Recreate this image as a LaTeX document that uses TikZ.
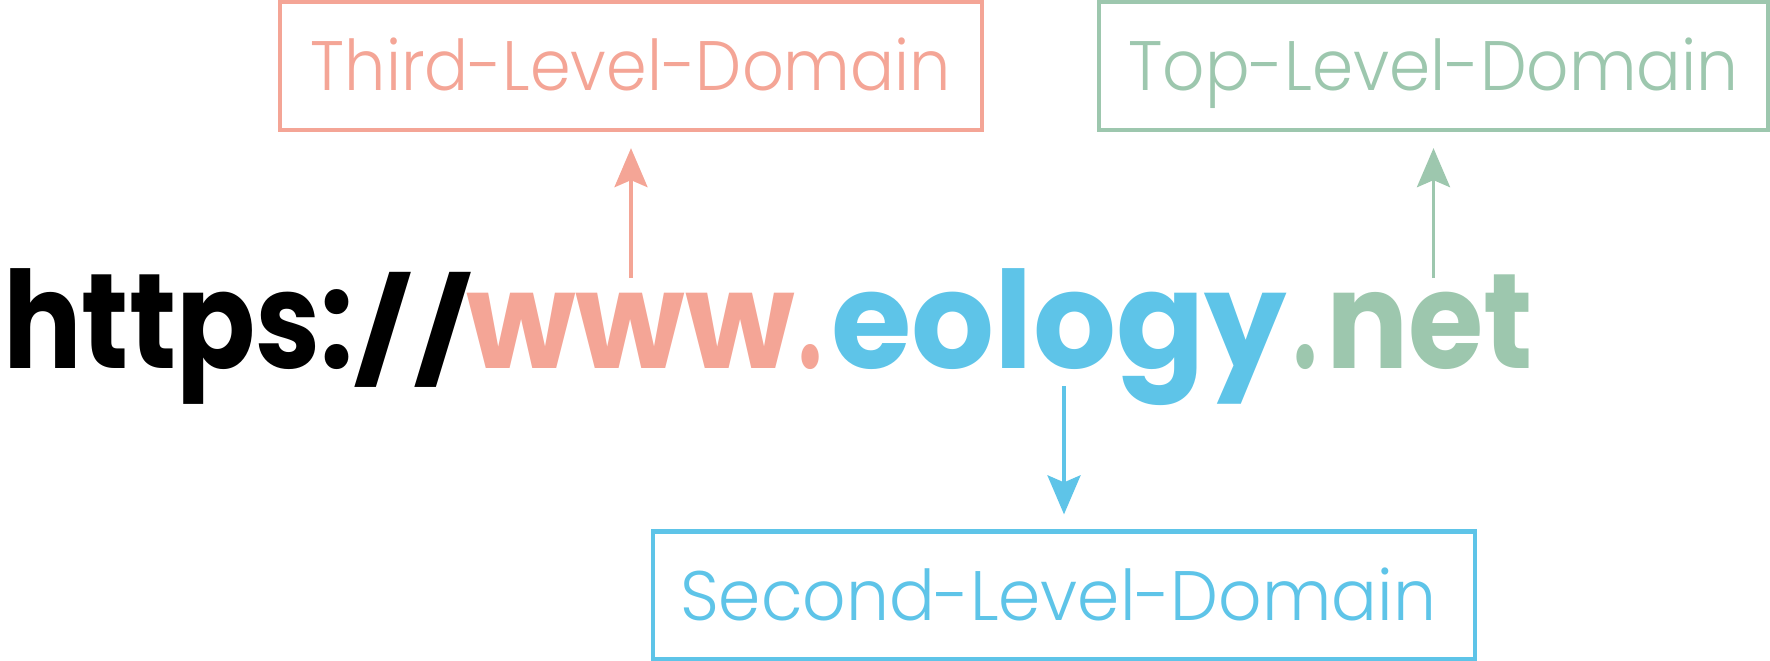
\documentclass[tikz,border=0pt]{standalone}
\usepackage{fontspec}
\setmainfont{Poppins}
\newfontfamily\lightfont{Poppins Light}
\usetikzlibrary{arrows.meta,calc}
\definecolor{salmon}{HTML}{F4A596}
\definecolor{sky}{HTML}{5EC4E8}
\definecolor{sage}{HTML}{9DC7AE}
\newcommand{\fitw}[2]{\resizebox{#1}{\height}{#2}}
\begin{document}
\begin{tikzpicture}[x=1pt,y=-1pt,
  dom/.style={draw=#1, line width=4.3pt, text=#1, minimum height=128pt, inner sep=0pt,
    text height=50pt, text depth=0pt, font=\lightfont\fontsize{70}{70}\selectfont},
  seg/.style={anchor=base west, inner sep=0pt, text=#1, font=\bfseries\fontsize{135}{135}\selectfont},
  conn/.style={draw=#1, line width=3.6pt, -{Stealth[length=39pt,width=33pt,inset=7pt]}}
]
\useasboundingbox (0,0) rectangle (1770,661);
\node[dom=salmon, minimum width=702pt] (third) at (631,66) {\fitw{640pt}{Third-Level-Domain}};
\node[dom=sage, minimum width=669pt] (top) at (1433.5,66) {\fitw{610pt}{Top-Level-Domain}};
\node[dom=sky, minimum width=822pt] (second) at (1064,595.5) {\hspace*{-12pt}\fitw{756pt}{Second-Level-Domain}};
\node[seg=black] (proto) at (3,368) {\fitw{469pt}{https:\scalebox{1.12}[0.75]{//}}};
\node[seg=salmon] (www) at (466,368) {\fitw{329pt}{www}};
\node[seg=salmon] (dot1) at (798,368) {\fitw{24pt}{.}};
\node[seg=sky] (sld) at (831,368) {\fitw{456pt}{eology}};
\node[seg=sage] (dot2) at (1293,368) {\fitw{24pt}{.}};
\node[seg=sage] (tld) at (1326,368) {\fitw{207pt}{net}};
\draw[conn=salmon] ($(third.south |- www.base)+(0,-90)$) -- ([yshift=-16pt]third.south);
\draw[conn=sage] ($(top.south |- tld.base)+(0,-90)$) -- ([yshift=-16pt]top.south);
\draw[conn=sky] ($(second.north |- sld.base)+(0,18)$) -- ([yshift=15pt]second.north);
\end{tikzpicture}
\end{document}
